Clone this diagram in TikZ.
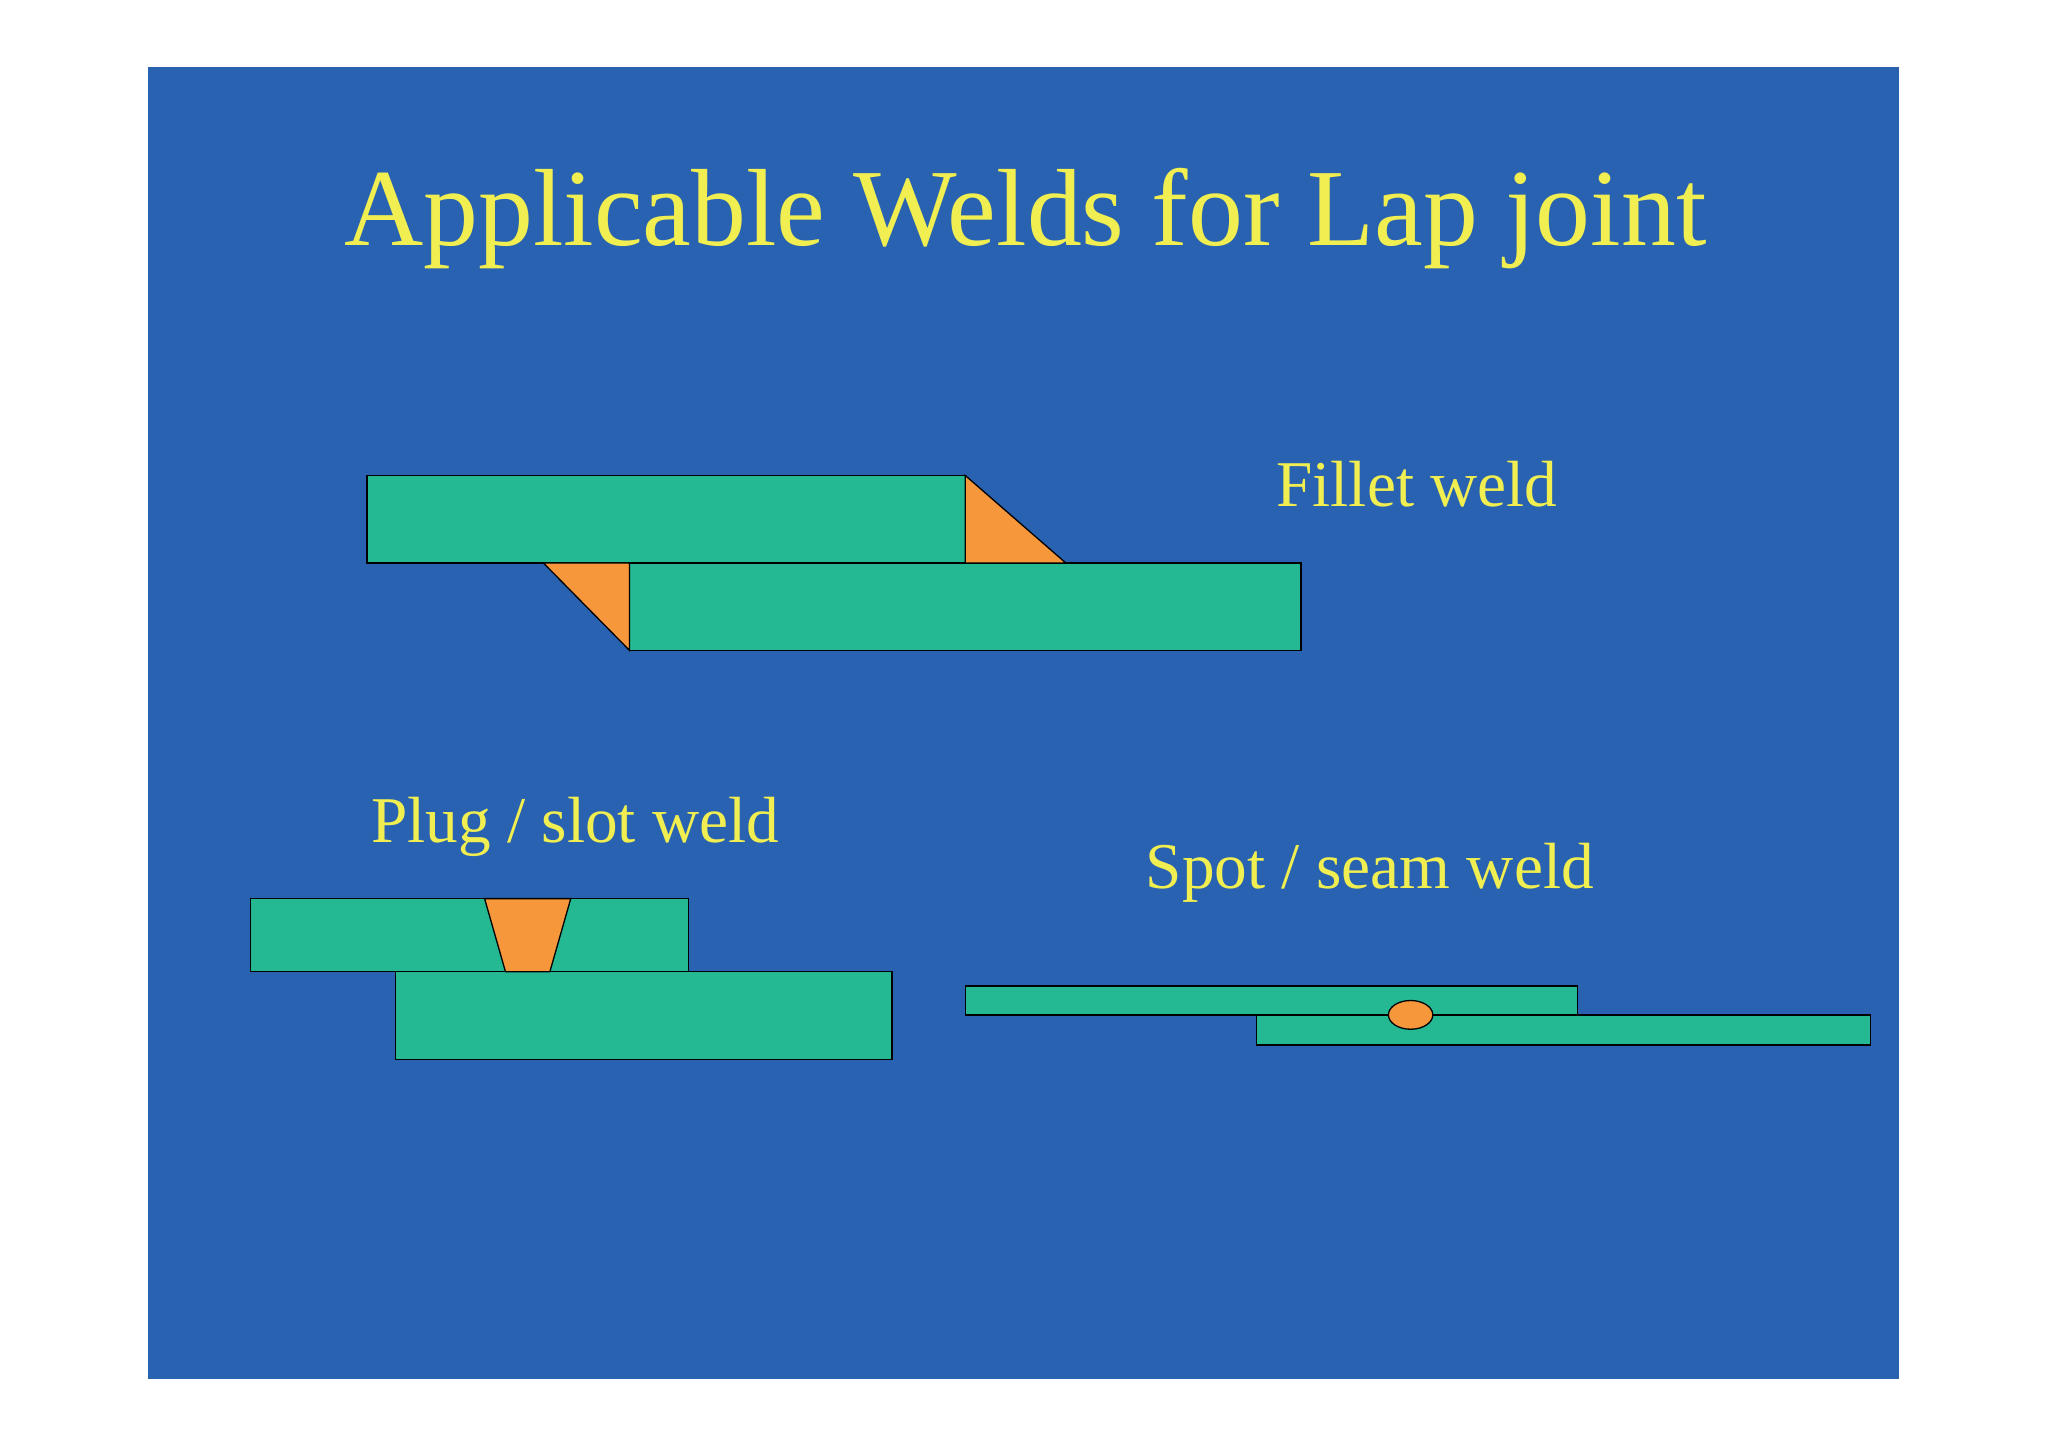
\documentclass[tikz,border=0pt]{standalone}
\usepackage{fontspec}
\setmainfont{Liberation Serif}
\definecolor{bg}{RGB}{41,98,176}
\definecolor{plate}{RGB}{37,185,147}
\definecolor{weld}{RGB}{245,151,58}
\definecolor{txt}{RGB}{240,238,80}
\begin{document}
\begin{tikzpicture}[x=1pt,y=-1pt,
  plate/.style={fill=plate,draw=black,line width=1pt},
  weld/.style={fill=weld,draw=black,line width=1pt},
  lbl/.style={text=txt,font=\fontsize{50}{60}\selectfont,inner sep=0pt,anchor=base west}]
\useasboundingbox (0,0) rectangle (1568,1109);
\fill[white] (0,0) rectangle (1568,1109);
\fill[bg] (113,51) rectangle (1454,1056);
\node[text=txt,font=\fontsize{84}{96}\selectfont,inner sep=0pt,anchor=base] (title) at (785,188) {Applicable Welds for Lap joint};
% fillet
\node[lbl] (fillet) at (977,388) {Fillet weld};
\draw[plate] (281,364) rectangle (739,431);
\draw[plate] (482,431) rectangle (996,498);
\draw[weld] (739,364) -- (739,431) -- (816,431) -- cycle;
\draw[weld] (416,431) -- (482,431) -- (482,498) -- cycle;
% plug
\node[lbl] (plug) at (284,645) {Plug / slot weld};
\draw[plate] (192,688) rectangle (527,744);
\draw[plate] (303,744) rectangle (683,811);
\draw[weld] (371,688) -- (437,688) -- (421,744) -- (387,744) -- cycle;
% spot
\node[lbl] (spot) at (877,680) {Spot / seam weld};
\draw[plate] (739,755) rectangle (1208,777);
\draw[plate] (962,777) rectangle (1432,800);
\draw[weld] (1080,777) ellipse [x radius=17,y radius=11];
\end{tikzpicture}
\end{document}
